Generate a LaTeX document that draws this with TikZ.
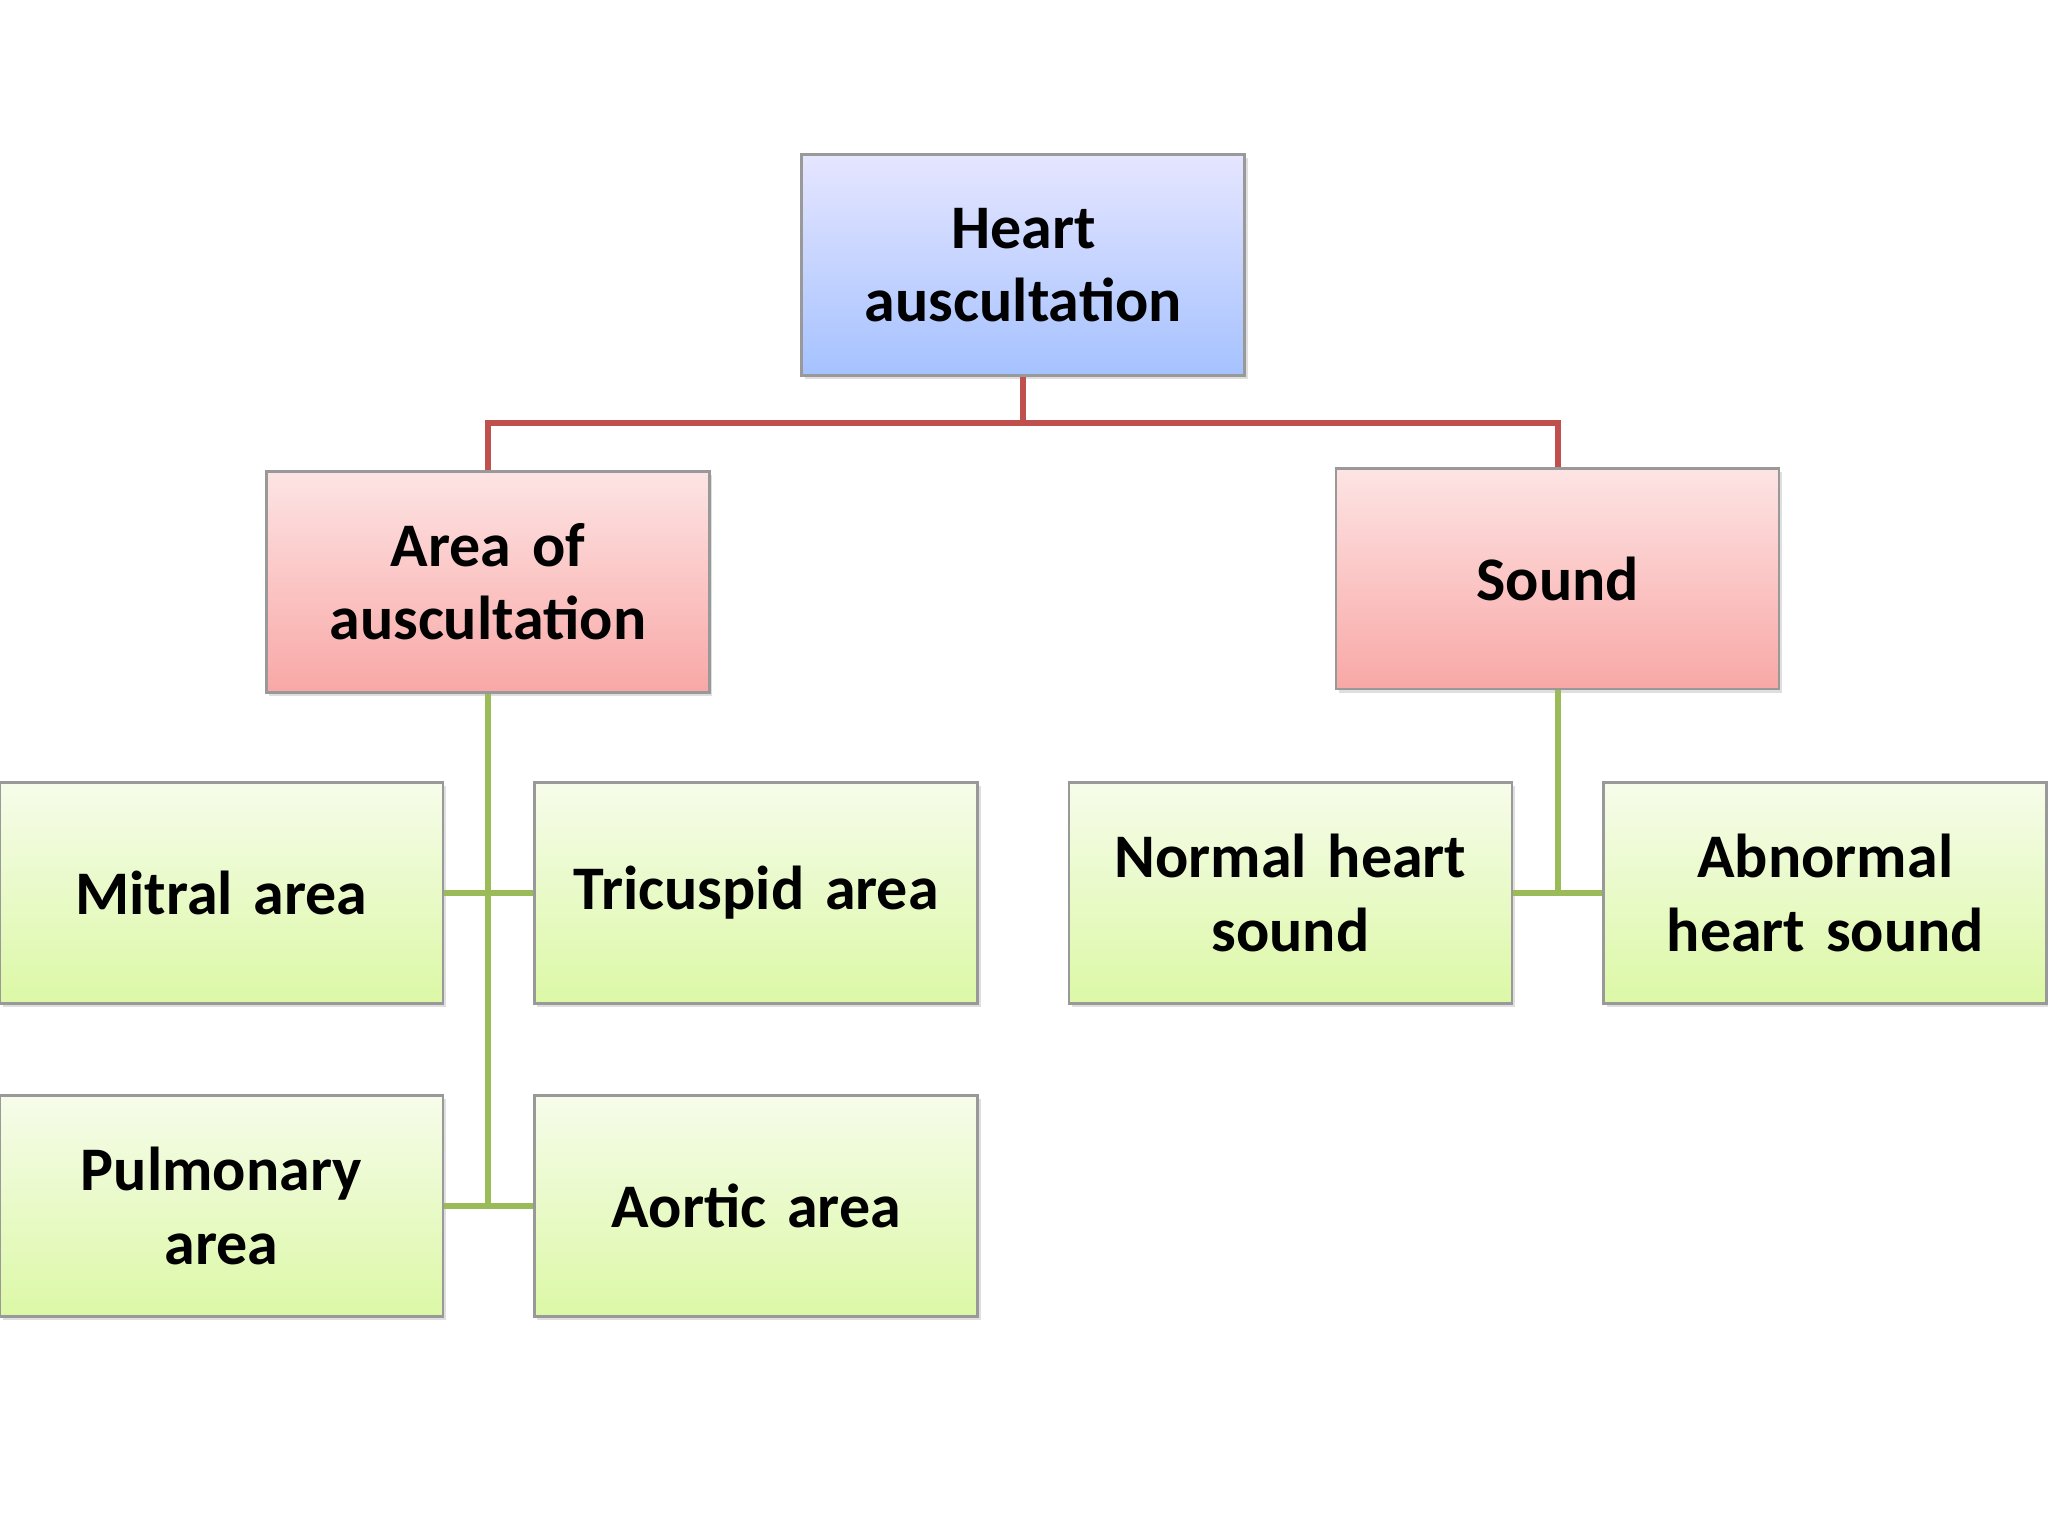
\documentclass[tikz,border=0pt]{standalone}
\usepackage{fontspec}
\setmainfont{Carlito}
\usetikzlibrary{shadows}
\begin{document}
\begin{tikzpicture}[x=0.01cm,y=-0.01cm,
 box/.style={draw=black!40,line width=0.6pt,minimum width=3.39cm,minimum height=1.69cm,align=center,
   font=\fontsize{13.5}{16}\selectfont\bfseries,drop shadow={opacity=0.25,shadow xshift=0.6pt,shadow yshift=-0.8pt},inner sep=2pt,text width=3.2cm},
 bluebox/.style={box,top color=blue!10!white,bottom color={rgb,255:red,165;green,194;blue,255}},
 redbox/.style={box,top color={rgb,255:red,253;green,228;blue,228},bottom color={rgb,255:red,248;green,168;blue,166}},
 greenbox/.style={box,top color={rgb,255:red,246;green,252;blue,234},bottom color={rgb,255:red,220;green,248;blue,166}},
 redl/.style={draw={rgb,255:red,192;green,80;blue,77},line width=1.3pt},
 greenl/.style={draw={rgb,255:red,155;green,187;blue,89},line width=1.3pt}]
\useasboundingbox[fill=white] (0,0) rectangle (1568,1176);
\node[bluebox] (h) at (783.5,203) {Heart\\auscultation};
\node[redbox] (a) at (373.5,445.5) {Area of\\auscultation};
\node[redbox] (s) at (1192.5,443) {Sound};
\node[greenbox] (m) at (169.5,683.5) {Mitral area};
\node[greenbox] (t) at (579,683.5) {Tricuspid area};
\node[greenbox] (n) at (988,683.5) {Normal heart\\sound};
\node[greenbox] (ab) at (1397.5,683.5) {Abnormal\\heart sound};
\node[greenbox] (p) at (169.5,923.5) {Pulmonary\\area};
\node[greenbox] (ao) at (579,923.5) {Aortic area};
\coordinate (r) at (783.5,324);
\draw[redl] (h.south) -- (r) -| (a.north);
\draw[redl] (r) -| (s.north);
\coordinate (g1) at (373.5,683.5);
\coordinate (g2) at (373.5,923.5);
\draw[greenl] (a.south) -- (g2);
\draw[greenl] (m.east) -- (t.west);
\draw[greenl] (p.east) -- (ao.west);
\coordinate (g3) at (1192.5,683.5);
\draw[greenl] (s.south) -- (g3);
\draw[greenl] (n.east) -- (ab.west);
\end{tikzpicture}
\end{document}
